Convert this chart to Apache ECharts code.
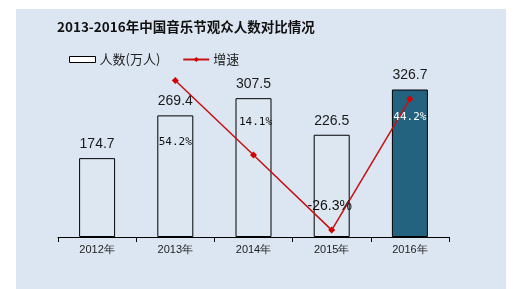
<!DOCTYPE html>
<html>
<head>
<meta charset="utf-8">
<script src="https://cdn.jsdelivr.net/npm/echarts@6/dist/echarts.min.js"></script>
<style>
    html, body { margin: 0; padding: 0; background: #fff; }
    #chart { width: 522px; height: 289px; }
</style>
</head>
<body>
<div id="chart"></div>
<script>
// 数据
const years = ['2012年', '2013年', '2014年', '2015年', '2016年'];
const audience = [174.7, 269.4, 307.5, 226.5, 326.7];   // 人数(万人)
const growth = [null, 54.2, 14.1, -26.3, 44.2];         // 增速 %

const cjk = '"Noto Sans CJK SC", sans-serif';
const num = '"Liberation Sans", Arial, sans-serif';
const mono = '"DejaVu Sans Mono", "Liberation Mono", monospace';

// 每个增速标签的位置微调
const growthLabels = [
    null,
    { offset: [0, 62], color: '#111', fontFamily: mono, fontSize: 11 },
    { offset: [2, -33], color: '#111', fontFamily: mono, fontSize: 11 },
    { offset: [-2, -24], color: '#111', fontFamily: num, fontSize: 14 },
    { offset: [0, 18], color: '#fff', fontFamily: mono, fontSize: 11 }
];

const chart = echarts.init(document.getElementById('chart'));

const option = {
    animation: false,
    backgroundColor: '#fff',
    graphic: {
        elements: [{
            type: 'rect',
            z: -10,
            shape: { x: 16, y: 9, width: 490, height: 280 },
            style: { fill: '#dce6f2' }
        }]
    },
    title: {
        text: '2013-2016年中国音乐节观众人数对比情况',
        left: 52,
        top: 15,
        textStyle: { fontFamily: cjk, fontSize: 13.5, fontWeight: 'bold', color: '#111' }
    },
    legend: {
        left: 64,
        top: 48,
        itemWidth: 26,
        itemHeight: 6,
        itemGap: 22,
        textStyle: { fontFamily: cjk, fontSize: 13, color: '#222', padding: [0, 0, 0, -1] },
        data: [
            { name: '人数(万人)', icon: 'rect', itemStyle: { color: '#fff', borderColor: '#000', borderWidth: 1 } },
            { name: '增速' }
        ]
    },
    grid: {
        left: 58,
        right: 73,
        top: 79,
        bottom: 52
    },
    xAxis: {
        type: 'category',
        data: years,
        axisLine: { lineStyle: { color: '#000', width: 1 } },
        axisTick: { show: true, length: 5, lineStyle: { color: '#000' } },
        axisLabel: { fontFamily: num, fontSize: 11, color: '#222', margin: 7 }
    },
    yAxis: [
        { type: 'value', min: 0, max: 350, show: false, splitLine: { show: false } },
        { type: 'value', min: -30, max: 55, show: false, splitLine: { show: false } }
    ],
    series: [
        {
            name: '人数(万人)',
            type: 'bar',
            barWidth: 36,
            data: audience.map((v, i) => ({
                value: v,
                itemStyle: i === audience.length - 1
                    ? { color: '#24637f', borderColor: '#000', borderWidth: 1 }
                    : { color: 'rgba(255,255,255,0.05)', borderColor: '#000', borderWidth: 1 }
            })),
            label: {
                show: true,
                position: 'top',
                distance: 7,
                fontFamily: num,
                fontSize: 14,
                color: '#1a1a1a'
            }
        },
        {
            name: '增速',
            type: 'line',
            yAxisIndex: 1,
            symbol: 'diamond',
            symbolSize: 7,
            itemStyle: { color: '#d40000' },
            lineStyle: { color: '#c81010', width: 1.5 },
            data: growth.map((v, i) => ({
                value: v,
                label: growthLabels[i]
                    ? Object.assign({ show: true, position: 'inside' }, growthLabels[i])
                    : { show: false }
            })),
            label: {
                show: true,
                formatter: '{c}%'
            },
            z: 5
        }
    ]
};

chart.setOption(option);
</script>
</body>
</html>
